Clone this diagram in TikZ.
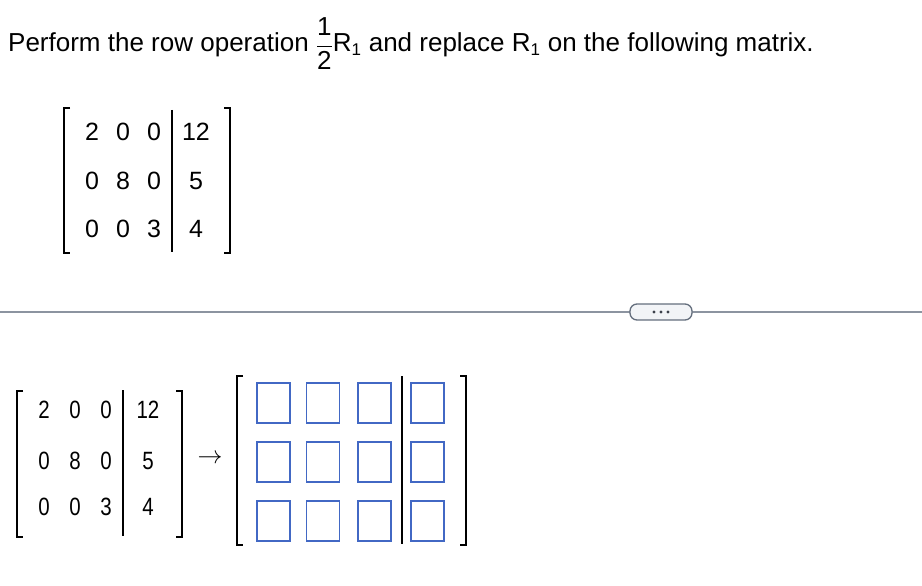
\documentclass[tikz,border=0pt]{standalone}
\usepackage{fontspec}
\setmainfont{Liberation Sans}
\begin{document}
\begin{tikzpicture}[x=1pt,y=-1pt,
  ent/.style={font=\fontsize{25}{28}\selectfont, inner sep=0pt},
  ent2/.style={font=\fontsize{25}{28}\selectfont, inner sep=0pt, xscale=0.82},
  brk/.style={line width=1.8pt},
  dv/.style={line width=1.4pt},
  bx/.style={draw={rgb,255:red,66;green,104;blue,196}, line width=1.6pt, minimum width=33pt, minimum height=40pt, inner sep=0pt}]
\useasboundingbox (0,0) rectangle (922,586);
\node[anchor=base west, inner sep=0pt, font=\fontsize{26}{30}\selectfont] (title) at (8,52)
 {Perform the row operation $\displaystyle\frac{\mbox{1}}{\mbox{2}}$R$_{\mbox{\fontsize{17}{18}\selectfont 1}}$ and replace R$_{\mbox{\fontsize{17}{18}\selectfont 1}}$ on the following matrix.};
% top matrix
\draw[brk] (70,108) -- (64,108) -- (64,253) -- (70,253);
\draw[brk] (224,108) -- (230,108) -- (230,253) -- (224,253);
\draw[dv] (172,110) -- (172,252);
\foreach \r/\a/\b/\c/\d [count=\i] in {132/2/0/0/12, 181/0/8/0/5, 229/0/0/3/4}{
  \node[ent] (t\i a) at (92,\r) {\a};
  \node[ent] (t\i b) at (123,\r) {\b};
  \node[ent] (t\i c) at (154,\r) {\c};
  \node[ent] (t\i d) at (196,\r) {\d};
}
% separator
\draw[line width=1.3pt, color={rgb,255:red,140;green,148;blue,160}] (0,312) -- (630,312);
\draw[line width=1.3pt, color={rgb,255:red,140;green,148;blue,160}] (692,312) -- (922,312);
\node[draw={rgb,255:red,100;green,110;blue,125}, fill={rgb,255:red,242;green,244;blue,247}, line width=1.3pt, rounded corners=7pt, minimum width=62pt, minimum height=16pt, inner sep=0pt] (more) at (661,312) {};
\foreach \dx in {-7,0,7} \fill[color={rgb,255:red,60;green,65;blue,75}] ([xshift=\dx pt]more.center) circle (1.6pt);
% bottom left matrix
\draw[brk] (23,391) -- (17,391) -- (17,537) -- (23,537);
\draw[brk] (176,391) -- (182,391) -- (182,537) -- (176,537);
\draw[dv] (123,390) -- (123,536);
\foreach \r/\a/\b/\c/\d [count=\i] in {410/2/0/0/12, 461/0/8/0/5, 507/0/0/3/4}{
  \node[ent2] (b\i a) at (44,\r) {\a};
  \node[ent2] (b\i b) at (75,\r) {\b};
  \node[ent2] (b\i c) at (106,\r) {\c};
  \node[ent2] (b\i d) at (148,\r) {\d};
}
\node[ent, font=\fontsize{30}{30}\selectfont] (arr) at (210,459) {$\rightarrow$};
% right matrix
\draw[brk] (243,376) -- (237,376) -- (237,545) -- (243,545);
\draw[brk] (460,376) -- (466,376) -- (466,545) -- (460,545);
\draw[dv] (402,376) -- (402,544);
\foreach \r [count=\i] in {403,462,521}{
  \node[bx] (r\i a) at (273.5,\r) {};
  \node[bx] (r\i b) at (323,\r) {};
  \node[bx] (r\i c) at (374.5,\r) {};
  \node[bx] (r\i d) at (427.5,\r) {};
}
\end{tikzpicture}
\end{document}
